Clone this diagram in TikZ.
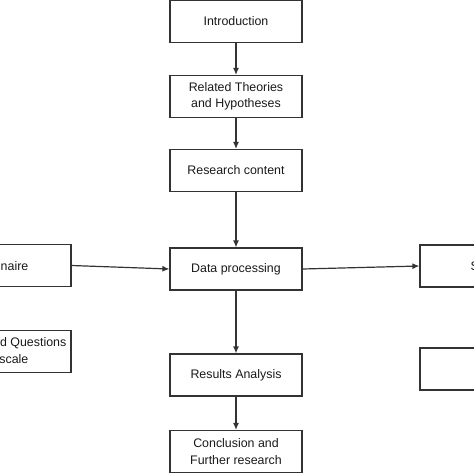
\documentclass[tikz,border=0pt]{standalone}
\usepackage{fontspec}
\setmainfont{Liberation Sans}
\usetikzlibrary{arrows.meta}
\tikzset{
  stagebox/.style={draw=black!80, line width=1.2pt, minimum width=132pt, minimum height=42pt,
    align=center, font=\fontsize{12.4}{16.5}\selectfont, text=black!90},
  cuttext/.style={font=\fontsize{12.4}{16.5}\selectfont, text=black!90, inner sep=0pt},
  flow/.style={draw=black!80, line width=1.2pt, -{Latex[length=7pt,width=6pt]}}
}
\begin{document}
\begin{tikzpicture}[x=1pt,y=-1pt]
            \useasboundingbox (0,0) rectangle (474,474);
            \clip (0,0) rectangle (474,474);
            % middle column
            \node[stagebox] (intro) at (236,21.5) {Introduction};
            \node[stagebox] (theory) at (236,96.5) {Related Theories\\and Hypotheses};
            \node[stagebox] (content) at (236,170.5) {Research content};
            \node[stagebox] (process) at (236,269) {Data processing};
            \node[stagebox] (results) at (236,375) {Results Analysis};
            \node[stagebox] (concl) at (236,451.5) {Conclusion and\\Further research};
            % side boxes, cut by the edge
            \node[stagebox] (quest) at (5,265.5) {};
            \node[stagebox] (items) at (5,351.5) {};
            \node[stagebox] (tools) at (486,266) {};
            \node[stagebox] (extra) at (486,369) {};
            \node[cuttext, anchor=east] (questtext) at (28.5,266) {naire};
            \node[cuttext, anchor=east] (itemsone) at (66.5,343.5) {d Questions};
            \node[cuttext, anchor=east] (itemstwo) at (28.5,359.5) {scale};
            \node[cuttext, anchor=west] (toolstext) at (470.5,266) {S};
            % connectors
            \draw[flow] (intro) -- (theory);
            \draw[flow] (theory) -- (content);
            \draw[flow] (content) -- (process);
            \draw[flow] (process) -- (results);
            \draw[flow] (results) -- (concl);
            \draw[flow] (quest.east) -- (process.west);
            \draw[flow] (process.east) -- (tools.west);
\end{tikzpicture}
\end{document}
